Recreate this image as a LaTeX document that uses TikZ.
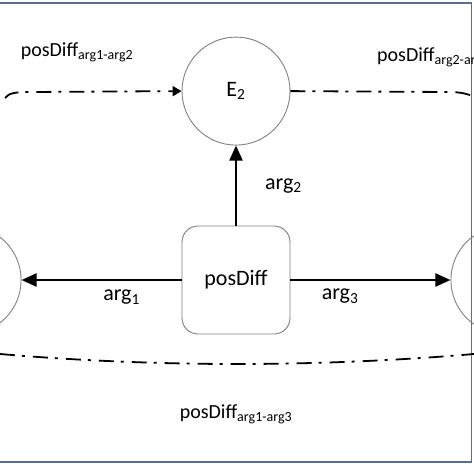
\documentclass[tikz,border=0pt]{standalone}
\usepackage{fontspec}
\setmainfont{Carlito}
\usepackage{tikz}
\usetikzlibrary{calc,positioning,arrows.meta}
\definecolor{frameblue}{RGB}{88,110,145}
\tikzstyle{arrow} = [line width=2.4pt, -{Triangle[length=15pt,width=13pt]}]
\tikzstyle{dashdot} = [line width=1.8pt, dash pattern=on 15pt off 7pt on 3pt off 8pt]
\tikzstyle{dashdotarrow} = [dashdot, -{Triangle[length=9pt,width=10pt]}]
\tikzstyle{frame} = [line width=1.6pt, draw=frameblue]

\begin{document}
\begin{tikzpicture}[x=1pt,y=-1pt]
\tikzset{%
	entity/.style = { circle, draw=gray, line width=0.9pt, minimum size=108pt, inner sep=0pt, font=\fontsize{22}{26}\selectfont},
	relation/.style = { rectangle, rounded corners=16pt, draw=gray, line width=0.9pt, minimum width=108pt, minimum height=108pt, font=\fontsize{22}{26}\selectfont},
	argtext/.style = { inner sep=0pt, font=\fontsize{22}{26}\selectfont},
	difftext/.style = { inner sep=0pt, font=\fontsize{20}{24}\selectfont}
}
\clip (0,0) rectangle (474,474);
\draw [frame] (-10,3) rectangle (471.5,462);

\node(PosDiff)		[relation] at (236,280)
								{posDiff};
\node(EntB)			[entity, above=80pt of PosDiff.north]
								{E\textsubscript{2}};
\node(EntA)			[entity, left=160pt of PosDiff.west]
								{};
\node(EntC)			[entity, right=160pt of PosDiff.east]
								{};

\node(DiffAB)		[difftext] at (77,52)
								{posDiff\textsubscript{arg1-arg2}};
\node(DiffBC)		[difftext, anchor=west] at (377,57)
								{posDiff\textsubscript{arg2-arg3}};
\node(DiffAC)		[difftext, below=70pt of PosDiff.south]
								{posDiff\textsubscript{arg1-arg3}};

\coordinate(TopLeft)	at (5,98);
\coordinate(TopBend)	at (30,92);
\coordinate(TopKnee)	at (448,92);
\coordinate(TopRight)	at (480,100);
\coordinate(BotLeft)	at (0,354);
\coordinate(BotMid)		at (237,364);
\coordinate(BotRight)	at (474,354);

\draw [arrow]	(PosDiff) -- node[argtext, right=28pt] {arg\textsubscript{2}} (EntB);
\draw [arrow]	(PosDiff) -- node[argtext, pos=0.375, below=9pt] {arg\textsubscript{1}} (EntA);
\draw [arrow]	(PosDiff) -- node[argtext, pos=0.31, below=8pt] {arg\textsubscript{3}} (EntC);

\draw [dashdotarrow]	(TopLeft) .. controls (9,93) and (15,92) .. (TopBend) -- (EntB.west);
\draw [dashdot]		(EntB.east) -- (TopKnee) .. controls (462,92) and (470,94) .. (TopRight);
\draw [dashdot]		(BotLeft) parabola bend (BotMid) (BotRight);

\end{tikzpicture}
\end{document}
